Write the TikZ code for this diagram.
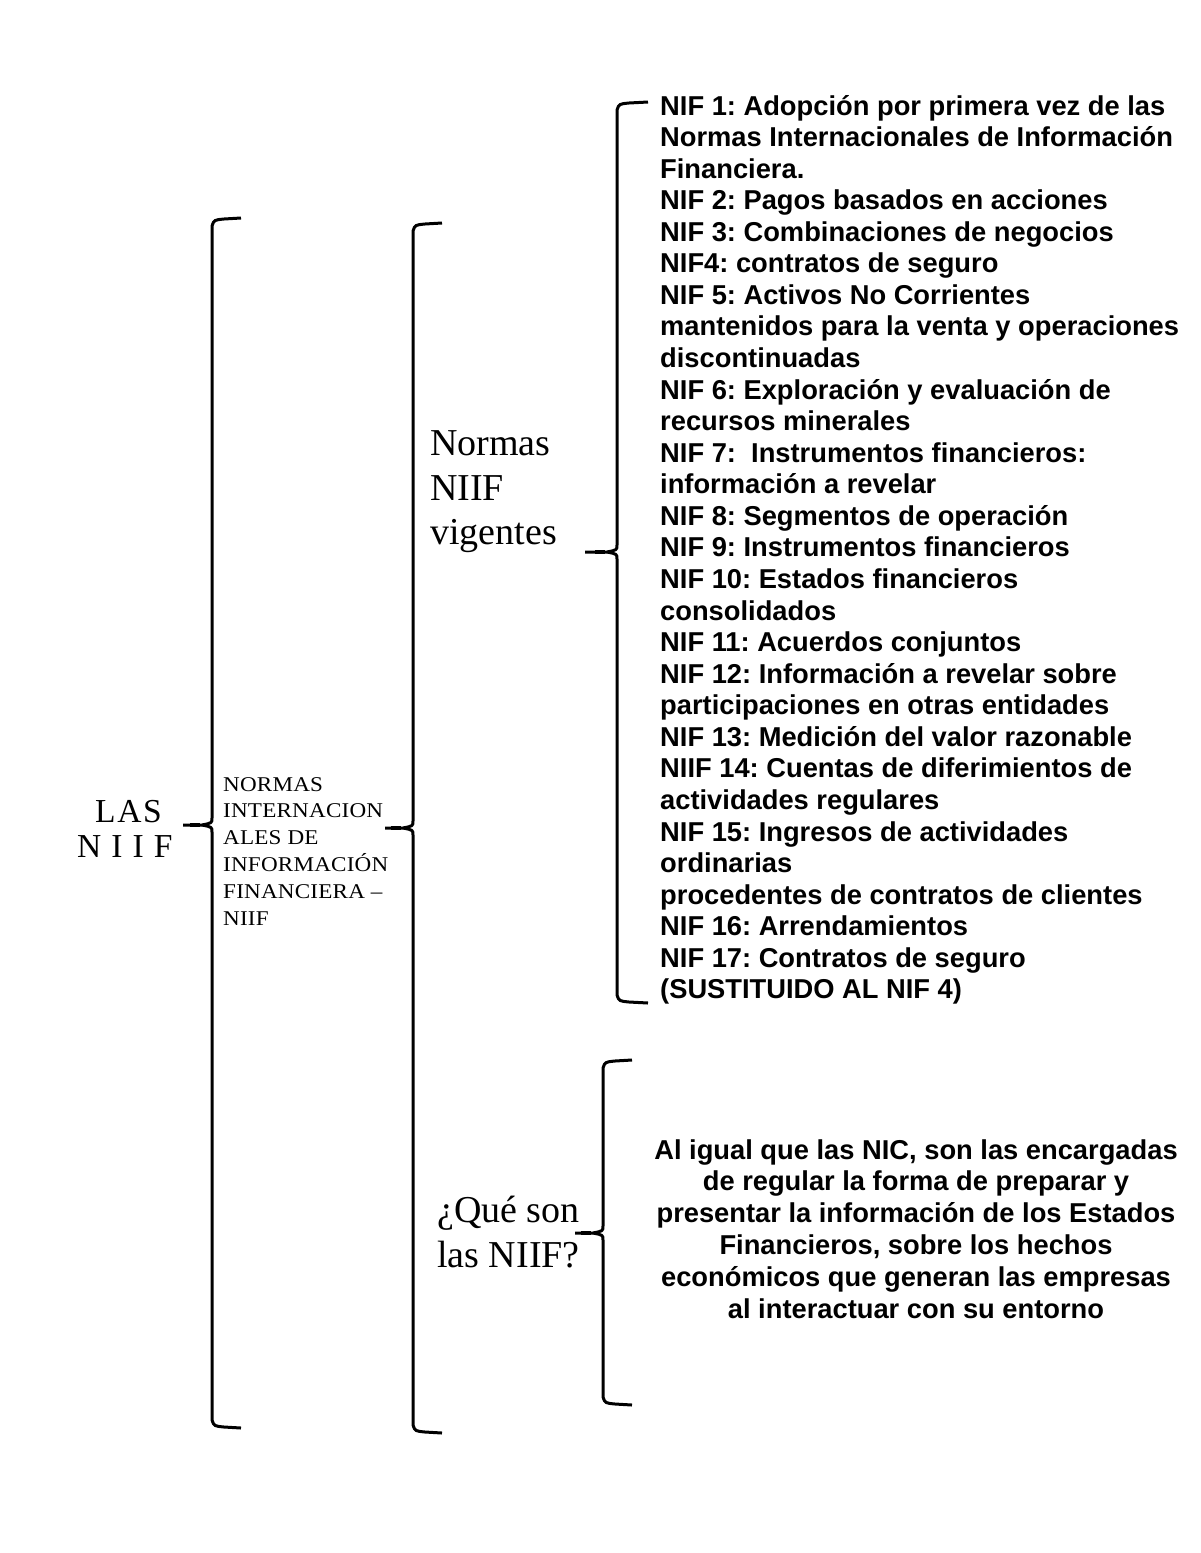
\documentclass[tikz,border=0pt]{standalone}
\usepackage{fontspec}
\setmainfont{Liberation Serif}
\newfontfamily\listfont{Liberation Sans}
\newfontfamily\smallserif[FakeStretch=1.1,LetterSpace=1]{Liberation Serif}
\newfontfamily\titleserif[LetterSpace=5]{Liberation Serif}
\frenchspacing
\newcommand{\mybrace}[6]{% #1 x, #2 top, #3 mid, #4 bottom, #5 tip x, #6 end x
  \draw[bracepath] (#6,#2) -- (#1+12,#2+1) .. controls (#1+2,#2+2) .. (#1,#2+8)
     -- (#1,#3-7) .. controls (#1,#3-2) .. (#1-10,#3) -- (#5,#3);
  \draw[bracepath] (#1-10,#3) .. controls (#1,#3+2) .. (#1,#3+7)
     -- (#1,#4-8) .. controls (#1+2,#4-2) .. (#1+12,#4-1) -- (#6,#4);
  \draw[line width=4.5pt] (#1-12,#3) -- (#1-22,#3);
}
\begin{document}
\begin{tikzpicture}[x=1pt,y=-1pt,
  bracepath/.style={line width=3pt, line join=round},
  listline/.style={anchor=base west, inner sep=0pt, font=\listfont\bfseries\fontsize{27.3}{31}\selectfont},
  paraline/.style={anchor=base, inner sep=0pt, font=\listfont\bfseries\fontsize{27.3}{31}\selectfont},
  bigserif/.style={anchor=base west, inner sep=0pt, font=\fontsize{38}{44}\selectfont},
  midserif/.style={anchor=base west, inner sep=0pt, font=\titleserif\fontsize{33.5}{40}\selectfont},
  smallline/.style={anchor=base west, inner sep=0pt, font=\smallserif\fontsize{21}{27}\selectfont}]
\fill[white] (0,0) rectangle (1200,1553);
\useasboundingbox (0,0) rectangle (1200,1553);

% braces
\mybrace{212}{218}{825}{1428}{183}{241}
\mybrace{413}{223}{828}{1433}{385}{442}
\mybrace{617}{102}{552}{1003}{585}{648}
\mybrace{603}{1060}{1233}{1405}{575}{632}

% left title
\node[midserif] (las) at (95,822) {LAS};
\node[midserif] (niif) at (77,857) {N I I F};

% small serif text
\foreach \t [count=\i from 0] in {NORMAS,INTERNACION,ALES DE,INFORMACIÓN,FINANCIERA –,NIIF}
  \node[smallline] (s\i) at (223,791+\i*26.9) {\t};

% Normas NIIF vigentes
\node[bigserif] (nv1) at (430,455) {Normas};
\node[bigserif] (nv2) at (430,500) {NIIF};
\node[bigserif] (nv3) at (430,544) {vigentes};

% Que son
\node[bigserif] (q1) at (437,1222) {¿Qué son};
\node[bigserif] (q2) at (437,1267) {las NIIF?};

% list
\foreach \t [count=\i from 0] in {
 {NIF 1: Adopción por primera vez de las},
 {Normas Internacionales de Información},
 {Financiera.},
 {NIF 2: Pagos basados en acciones},
 {NIF 3: Combinaciones de negocios},
 {NIF4: contratos de seguro},
 {NIF 5: Activos No Corrientes},
 {mantenidos para la venta y operaciones},
 {discontinuadas},
 {NIF 6: Exploración y evaluación de},
 {recursos minerales},
 {NIF 7: \ Instrumentos financieros:},
 {información a revelar},
 {NIF 8: Segmentos de operación},
 {NIF 9: Instrumentos financieros},
 {NIF 10: Estados financieros},
 {consolidados},
 {NIF 11: Acuerdos conjuntos},
 {NIF 12: Información a revelar sobre},
 {participaciones en otras entidades},
 {NIF 13: Medición del valor razonable},
 {NIIF 14: Cuentas de diferimientos de},
 {actividades regulares},
 {NIF 15: Ingresos de actividades},
 {ordinarias},
 {procedentes de contratos de clientes},
 {NIF 16: Arrendamientos},
 {NIF 17: Contratos de seguro},
 {(SUSTITUIDO AL NIF 4)}}
  \node[listline] (l\i) at (660,115+\i*31.57) {\t};

% paragraph
\foreach \t [count=\i from 0] in {
 {Al igual que las NIC, son las encargadas},
 {de regular la forma de preparar y},
 {presentar la información de los Estados},
 {Financieros, sobre los hechos},
 {económicos que generan las empresas},
 {al interactuar con su entorno}}
  \node[paraline] (p\i) at (916,1159+\i*31.8) {\t};
\end{tikzpicture}
\end{document}
